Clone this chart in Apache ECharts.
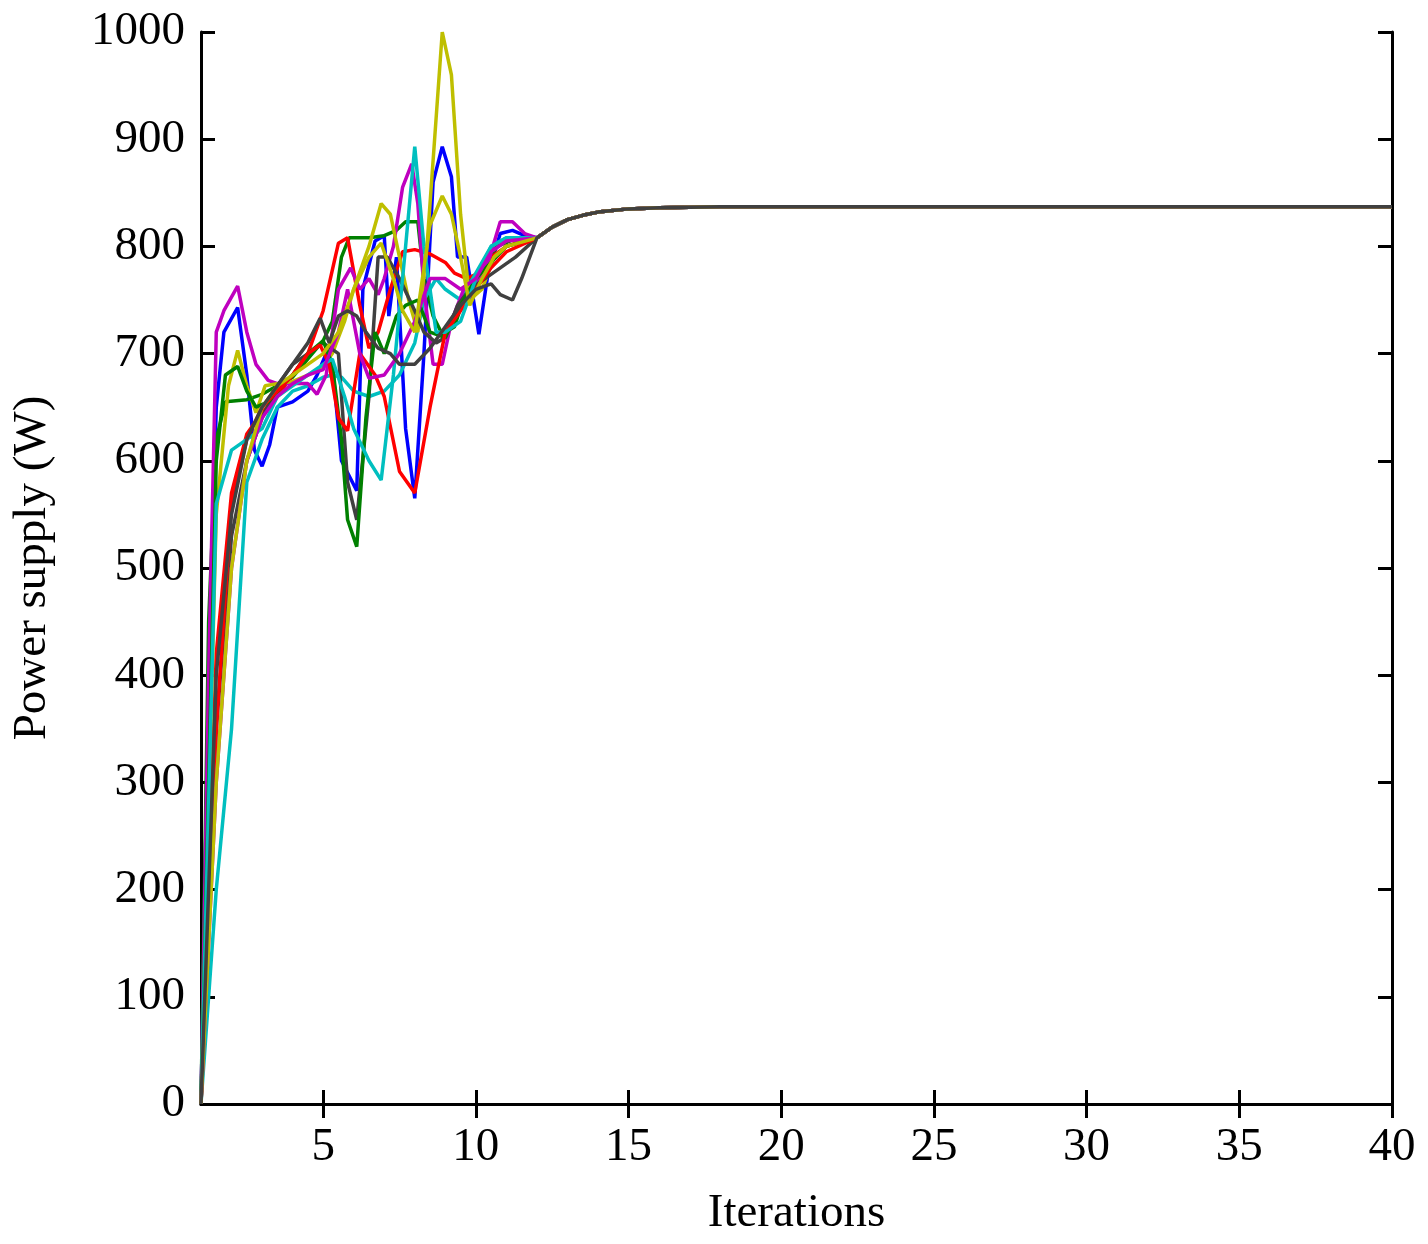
<!DOCTYPE html><html><head><meta charset="utf-8"><script src="https://cdn.jsdelivr.net/npm/echarts@6/dist/echarts.min.js"></script>
<style>body{margin:0}#c{width:1428px;height:1244px}</style></head><body><div id="c"></div><script>
const xTicks=[5,10,15,20,25,30,35,40];
const tail=[[12.5,818],[13,825],[13.5,829],[14,832],[15,835],[16,836],[18,837],[40,837]];
const blue=[[1,0],[1.25,400],[1.5,650],[1.75,720],[2.2,743],[2.5,680],[2.75,610],[3,595],[3.25,615],[3.5,650],[4,655],[4.5,665],[4.8,680],[5.1,700],[5.3,690],[5.6,600],[6.1,572],[6.3,760],[6.7,805],[7,810],[7.15,735],[7.4,790],[7.7,630],[8,565],[8.3,700],[8.6,860],[8.9,893],[9.2,865],[9.4,790],[9.7,790],[10.1,718],[10.4,775],[10.8,812],[11.2,815],[11.6,810],[12,808]];
const green=[[1,0],[1.25,450],[1.5,620],[1.8,655],[2.5,657],[3,662],[3.5,670],[4,678],[4.5,695],[5,712],[5.3,730],[5.6,790],[5.85,808],[6.5,808],[7,810],[7.4,815],[7.7,823],[8.1,823],[8.3,770],[8.6,735],[8.9,718],[9.3,725],[9.7,760],[10.2,780],[10.7,800],[11.2,806],[12,808]];
const green2=[[1,0],[1.5,600],[1.8,680],[2.2,688],[2.5,665],[2.8,650],[3.2,655],[3.6,668],[4,680],[4.5,700],[5,712],[5.3,690],[5.6,620],[5.8,545],[6.1,520],[6.4,640],[6.7,720],[7,700],[7.4,735],[7.7,745],[8.1,750],[8.5,720],[9,715],[9.5,745],[10,770],[11,800],[12,808]];
const red=[[1,0],[1.5,420],[2,570],[2.5,625],[3,645],[3.5,660],[4,680],[4.5,700],[5,740],[5.5,803],[5.8,808],[6.2,745],[6.5,705],[6.8,720],[7.2,760],[7.6,795],[8,797],[8.5,793],[9,785],[9.3,775],[9.7,770],[10.1,775],[10.5,790],[11,800],[11.5,805],[12,808]];
const red2=[[1,0],[1.5,350],[2,560],[2.5,620],[3,650],[3.5,665],[4,680],[4.5,700],[4.9,708],[5.2,690],[5.5,640],[5.8,628],[6.2,700],[6.7,680],[7,660],[7.5,590],[8,570],[8.5,650],[9,720],[9.5,740],[10,760],[10.5,780],[11,795],[12,808]];
const cyan=[[1,0],[1.5,200],[2,350],[2.5,580],[3,620],[3.5,650],[4,665],[4.5,670],[5,678],[5.3,680],[5.6,678],[6,665],[6.5,660],[7,665],[7.5,680],[8,710],[8.3,750],[8.7,770],[9,760],[9.5,750],[10,775],[10.5,800],[11,808],[12,808]];
const cyan2=[[1,0],[1.5,560],[2,610],[2.5,620],[3,630],[3.5,660],[4,670],[4.5,680],[5,690],[5.3,695],[5.7,660],[6,630],[6.5,600],[6.9,582],[7.3,680],[7.7,800],[8,893],[8.3,800],[8.7,720],[9,720],[9.5,730],[10,770],[10.5,800],[11,808],[12,808]];
const magenta=[[1,0],[1.25,400],[1.5,720],[1.75,740],[2.2,763],[2.5,720],[2.8,690],[3.2,675],[3.5,672],[4,672],[4.5,672],[4.8,662],[5.1,680],[5.5,760],[5.9,780],[6.2,760],[6.5,770],[6.8,755],[7,770],[7.3,800],[7.6,855],[7.9,877],[8.1,840],[8.3,760],[8.6,690],[8.9,690],[9.2,730],[9.6,760],[10,765],[10.4,785],[10.8,823],[11.2,823],[11.6,812],[12,808]];
const magenta2=[[1,0],[1.5,300],[2,500],[2.5,600],[3,640],[3.5,660],[4,672],[4.5,680],[5,685],[5.5,720],[5.8,760],[6.2,700],[6.5,677],[7,680],[7.5,700],[8,730],[8.5,770],[9,770],[9.5,760],[10,770],[10.5,795],[11,805],[12,808]];
const yellow=[[1,0],[1.5,550],[1.9,670],[2.2,703],[2.5,670],[2.8,645],[3.1,670],[3.5,672],[4,674],[4.5,680],[5,688],[5.3,700],[5.7,730],[6,760],[6.5,800],[6.9,840],[7.2,830],[7.5,790],[7.8,750],[8.1,720],[8.4,800],[8.9,1000],[9.2,960],[9.5,830],[9.8,750],[10.2,760],[10.6,790],[11,800],[12,808]];
const yellow2=[[1,0],[1.5,300],[2,500],[2.5,600],[3,650],[3.5,670],[4,680],[4.5,690],[5,700],[5.5,720],[6,760],[6.5,790],[6.9,803],[7.3,770],[7.6,740],[8,720],[8.5,820],[8.9,847],[9.2,830],[9.5,790],[9.8,745],[10.2,770],[10.6,790],[11,800],[12,808]];
const gray=[[1,0],[1.5,400],[2,550],[2.5,620],[3,650],[3.5,670],[4,690],[4.5,710],[4.9,733],[5.2,710],[5.5,735],[5.8,740],[6.1,735],[6.4,720],[6.8,705],[7.2,700],[7.5,690],[8,690],[8.5,705],[9,725],[9.5,745],[10,760],[10.5,765],[10.8,755],[11.2,750],[11.5,770],[12,808]];
const gray2=[[1,0],[1.5,350],[2,530],[2.5,600],[3,640],[3.5,670],[4,690],[4.5,700],[5,710],[5.5,700],[5.8,580],[6.1,545],[6.5,660],[6.8,790],[7.1,790],[7.5,770],[8,740],[8.3,720],[8.7,710],[9,715],[9.4,745],[9.8,760],[10.3,770],[10.8,780],[11.3,790],[12,808]];
const list=[[blue,'#0000ff'],[green,'#008000'],[red,'#ff0000'],[cyan,'#00bfbf'],[magenta,'#bf00bf'],[yellow,'#bfbf00'],[gray2,'#404040'],[green2,'#008000'],[red2,'#ff0000'],[cyan2,'#00bfbf'],[magenta2,'#bf00bf'],[yellow2,'#bfbf00'],[gray,'#404040']];
const F='Liberation Serif';
const ax={color:'#000',fontFamily:F,fontSize:47};
const c=echarts.init(document.getElementById('c'));
c.setOption({animation:false,
grid:{left:201,right:36,top:32,bottom:140,containLabel:false,outerBoundsMode:'none'},
xAxis:[{type:'value',min:1,max:40,name:'Iterations',nameLocation:'middle',nameGap:86,nameTextStyle:ax,
 axisLine:{lineStyle:{color:'#000',width:3}},axisTick:{inside:true,length:14,lineStyle:{width:3},customValues:xTicks},
 axisLabel:Object.assign({margin:20,customValues:xTicks},ax),splitLine:{show:false}},
 {type:'value',position:'top',min:1,max:40,axisLine:{lineStyle:{color:'#000',width:3}},axisTick:{inside:true,length:14,lineStyle:{width:3},customValues:xTicks},axisLabel:{show:false},splitLine:{show:false}}],
yAxis:[{type:'value',min:0,max:1000,interval:100,name:'Power supply (W)',nameLocation:'middle',nameGap:145,nameTextStyle:ax,
 axisLine:{lineStyle:{color:'#000',width:3}},axisTick:{inside:true,length:14,lineStyle:{width:3}},axisLabel:Object.assign({margin:16,formatter:v=>String(v)},ax),splitLine:{show:false}},
 {type:'value',position:'right',min:0,max:1000,interval:100,axisLine:{lineStyle:{color:'#000',width:3}},axisTick:{inside:true,length:14,lineStyle:{width:3}},axisLabel:{show:false},splitLine:{show:false}}],
series:list.map(([d,col])=>({type:'line',data:d.concat(tail),showSymbol:false,lineStyle:{color:col,width:3.5},itemStyle:{color:col}}))
});
</script></body></html>
